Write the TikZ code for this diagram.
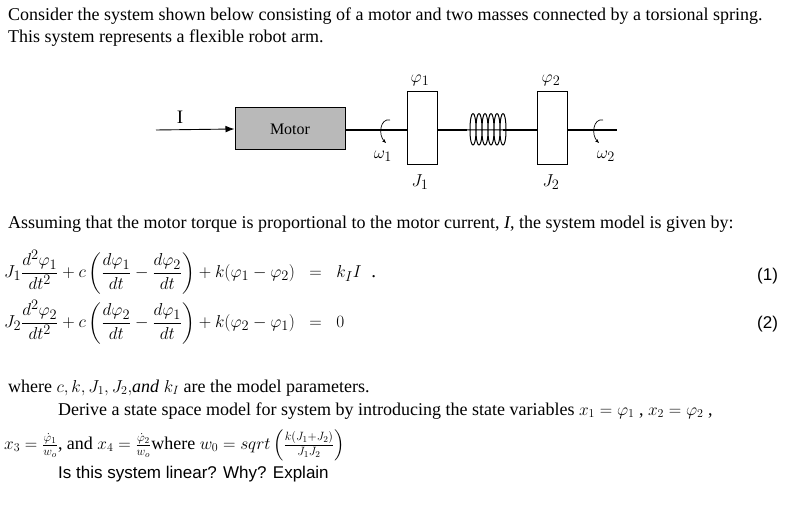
\documentclass[tikz,border=0pt]{standalone}
\usepackage{amsmath}
\usepackage{fontspec}
\setmainfont{Liberation Serif}
\newfontfamily\arialf{Liberation Sans}
\usetikzlibrary{arrows.meta}
\begin{document}
\begin{tikzpicture}[x=1pt,y=-1pt,
  txt/.style={anchor=west,inner sep=0pt,font=\fontsize{18}{21}\selectfont},
  eq/.style={anchor=west,inner sep=0pt,font=\fontsize{19}{22}\selectfont},
  sans/.style={anchor=west,inner sep=0pt,font=\arialf\fontsize{17}{20}\selectfont},
  mbox/.style={draw,line width=1pt},
  lbl/.style={inner sep=0pt,font=\fontsize{19}{21}\selectfont}]
\useasboundingbox (0,0) rectangle (809,510);
\node[txt] (t1) at (8,16) {Consider the system shown below consisting of a motor and two masses connected by a torsional spring.};
\node[txt] (t2) at (8,38) {This system represents a flexible robot arm.};
% diagram
\coordinate (in) at (156,130);
\node[mbox,fill=gray!55,minimum width=110pt,minimum height=42pt,inner sep=0pt,font=\fontsize{16}{18}\selectfont] (motor) at (290,129) {Motor};
\draw[-{Latex[length=9pt]},line width=0.9pt] (in) -- (motor.west);
\node[lbl] (I) at (180,117) {I};
\node[mbox,minimum width=30pt,minimum height=73pt] (J1b) at (422,128) {};
\node[mbox,minimum width=30pt,minimum height=73pt] (J2b) at (552,128) {};
\coordinate (end) at (617,130);
\draw[line width=1.3pt] (motor.east |- 0,130) -- (J1b.west |- 0,130);
\draw[line width=1.3pt] (J1b.east |- 0,130) -- (467,130);
\draw[line width=1.3pt] (503,130) -- (J2b.west |- 0,130);
\draw[line width=1.3pt] (J2b.east |- 0,130) -- (end);
\draw[line width=1pt] (467,130) -- (470,130)
  \foreach \i in {0,...,5} { .. controls (\i*6+470,108) and (\i*6+476,108) .. (\i*6+476,130) .. controls (\i*6+476,150) and (\i*6+470,150) .. (\i*6+470,130) -- (\i*6+476,130)} -- (503,130);
\draw[-{Stealth[length=4pt]},line width=0.7pt] (390,120) .. controls (380,118) and (378,135) .. (386,143);
\draw[-{Stealth[length=4pt]},line width=0.7pt] (603,120) .. controls (593,118) and (591,135) .. (599,143);
\node[lbl] (w1) at (383,156) {$\omega_1$};
\node[lbl] (w2) at (606,156) {$\omega_2$};
\node[lbl] (p1) at (420,80) {$\varphi_1$};
\node[lbl] (p2) at (551,80) {$\varphi_2$};
\node[lbl] (j1) at (420,182) {$J_1$};
\node[lbl] (j2) at (551,182) {$J_2$};
% text
\node[txt] (t3) at (8,224) {Assuming that the motor torque is proportional to the motor current, \textit{I}, the system model is given by:};
\node[eq] (e1) at (4,272) {$\displaystyle J_1\frac{d^2\varphi_1}{dt^2}+c\left(\frac{d\varphi_1}{dt}-\frac{d\varphi_2}{dt}\right)+k(\varphi_1-\varphi_2)\;\;=\;\;k_I I$\ \ .};
\node[eq] (e2) at (4,322) {$\displaystyle J_2\frac{d^2\varphi_2}{dt^2}+c\left(\frac{d\varphi_2}{dt}-\frac{d\varphi_1}{dt}\right)+k(\varphi_2-\varphi_1)\;\;=\;\;0$};
\node[sans] (n1) at (757,276) {(1)};
\node[sans] (n2) at (757,324) {(2)};
\node[txt] (t4) at (8,388) {where $c,k,J_1,J_2,$\textit{and} $k_I$ are the model parameters.};
\node[txt] (t5) at (58,411) {Derive a state space model for system by introducing the state variables $x_1=\varphi_1$ , $x_2=\varphi_2$ ,};
\node[txt] (t6) at (4,445) {$x_3=\frac{\dot\varphi_1}{w_o}$, and $x_4=\frac{\dot\varphi_2}{w_o}$where $w_0=sqrt\left(\frac{k(J_1+J_2)}{J_1J_2}\right)$};
\node[sans] (t7) at (58,474) {Is this system linear? Why? Explain};
\end{tikzpicture}
\end{document}
